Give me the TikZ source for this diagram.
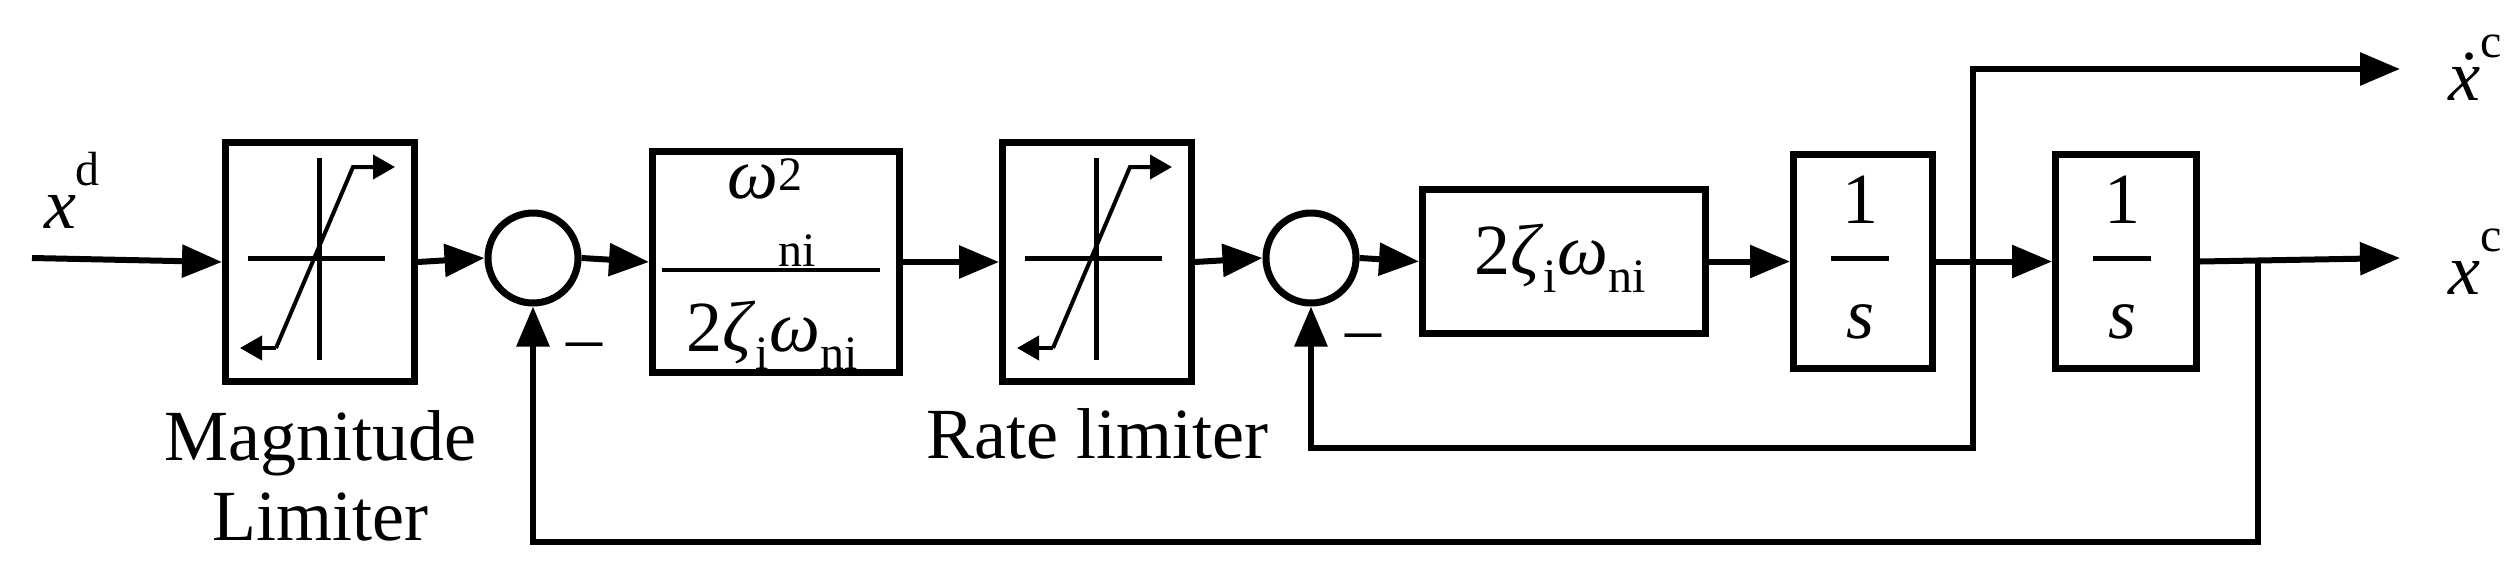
\documentclass[tikz,border=0pt]{standalone}
\usepackage{fontspec}
\setmainfont{Liberation Serif}
\usetikzlibrary{arrows.meta}
\newcommand\sps[1]{\raisebox{0.6em}{\fontsize{48}{50}\selectfont #1}}
\newcommand\sbs[1]{\raisebox{-0.25em}{\fontsize{48}{50}\selectfont #1}}
\newcommand\supsub[2]{\begin{tabular}{@{}l@{}}\fontsize{48}{50}\selectfont #1\\[-4pt]\fontsize{48}{50}\selectfont #2\end{tabular}}
\begin{document}
\begin{tikzpicture}[x=1pt,y=-1pt,line width=6pt,
  blk/.style={draw,line width=7pt,inner sep=0pt,anchor=north west},
  sumc/.style={draw,circle,line width=7pt,minimum size=90pt,inner sep=0pt},
  sig/.style={-{Triangle[length=40pt,width=32pt]}},
  lab/.style={font=\fontsize{72}{80}\selectfont,inner sep=0pt},
  small/.style={-{Triangle[length=22pt,width=24pt]},line width=4pt}]
\useasboundingbox (0,0) rectangle (2512,587);
\newcommand\limicon[1]{\begin{scope}[shift={(#1)}]
 \draw[line width=5pt] (3,-100) -- (3,102) (-68,0) -- (69,0);
 \draw[small] (-40,90) -- (37,-91) -- (79,-91);
 \draw[small] (-40,90) -- (-76,90);
 \end{scope}}
\node[blk,minimum width=189pt,minimum height=239pt] (ml) at (222,139) {};
\node[sumc] (s1) at (533,258) {};
\node[blk,minimum width=247pt,minimum height=221pt] (g1) at (649,148) {};
\node[blk,minimum width=189pt,minimum height=239pt] (rl) at (999,139) {};
\node[sumc] (s2) at (1311,258) {};
\node[blk,minimum width=283pt,minimum height=144pt] (g2) at (1419,186) {};
\node[blk,minimum width=139pt,minimum height=214pt] (i1) at (1790,151) {};
\node[blk,minimum width=141pt,minimum height=214pt] (i2) at (2052,151) {};
\limicon{316,258}
\limicon{1093,258}
\node[lab] (num) at (772,212) {\textit{ω}\raisebox{-0.28em}{\supsub{2}{ni}}};
\draw[line width=4pt] (662,270) -- (880,270);
\node[lab] (den) at (772,335) {2\textit{ζ}\sbs{i}\textit{ω}\sbs{ni}};
\node[lab] (g2t) at (1560,258) {2\textit{ζ}\sbs{i}\textit{ω}\sbs{ni}};
\node[lab] (o1) at (1860,200) {1};
\draw[line width=5pt] (1831,258) -- (1889,258);
\node[lab] (s1t) at (1860,322) {\textit{s}};
\node[lab] (o2) at (2122,200) {1};
\draw[line width=5pt] (2093,258) -- (2151,258);
\node[lab] (s2t) at (2122,322) {\textit{s}};
\node[lab] (xd) at (72,190) {\textit{x}\sps{d}};
\node[lab] (xcd) at (2475,68) {\textit{ẋ}\sps{c}};
\node[lab] (xc) at (2475,262) {\textit{x}\sps{c}};
\node[lab,align=center] (mlt) at (320,476) {Magnitude\\Limiter};
\node[lab] (rlt) at (1097,434) {Rate limiter};
\node[lab] (m1) at (584,352) {–};
\node[lab] (m2) at (1363,343) {–};
\coordinate (in) at (32,258);
\coordinate (b1) at (1973,258);
\coordinate (b2) at (2258,258);
\coordinate (o1e) at (2400,69);
\coordinate (o2e) at (2400,258);
\draw[sig] (in) -- (ml.west);
\draw[sig] (ml.east) -- (s1.west);
\draw[sig] (s1.east) -- (g1.west);
\draw[sig] (g1.east) -- (rl.west);
\draw[sig] (rl.east) -- (s2.west);
\draw[sig] (s2.east) -- (g2.west);
\draw[sig] (g2.east) -- (i1.west);
\draw[sig] (i1.east) -- (i2.west);
\draw[sig] (i2.east) -- (o2e);
\draw[sig] (b1) |- (o1e);
\draw[sig] (b1) |- (1311,448) -- (s2.south);
\draw[sig] (b2) |- (533,542) -- (s1.south);
\end{tikzpicture}
\end{document}
